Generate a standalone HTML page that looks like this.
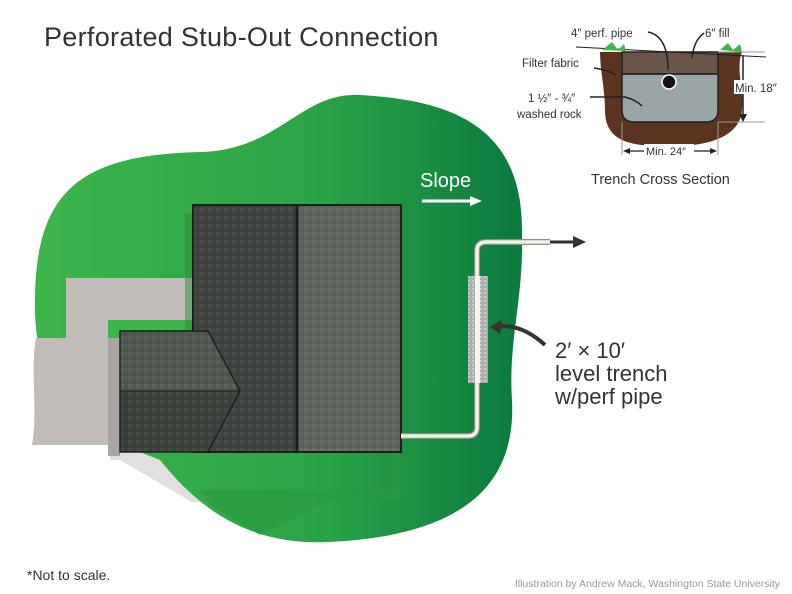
<!DOCTYPE html>
<html><head><meta charset="utf-8"><style>
body{margin:0;background:#fff;}
svg{display:block;font-family:"Liberation Sans",sans-serif;}
</style></head><body>
<svg width="792" height="594" viewBox="0 0 792 594" xmlns="http://www.w3.org/2000/svg">
<defs>
<linearGradient id="g" x1="0" x2="1" y1="0" y2="0">
<stop offset="0" stop-color="#3db54a"/><stop offset="0.6" stop-color="#2aa247"/><stop offset="1" stop-color="#0a7a3e"/>
</linearGradient>
<pattern id="sh" width="8" height="8" patternUnits="userSpaceOnUse">
<rect width="8" height="8" fill="none"/><rect x="0" y="0" width="4" height="4" fill="#fff" opacity="0.05"/><rect x="4" y="4" width="4" height="4" fill="#000" opacity="0.06"/>
</pattern>
<pattern id="rk" width="4" height="4" patternUnits="userSpaceOnUse">
<rect width="4" height="4" fill="#a9adab"/><rect width="2" height="2" fill="#c8cbc9"/>
</pattern>
</defs>
<text x="44" y="46" font-size="27" fill="#333" letter-spacing="0.3">Perforated Stub-Out Connection</text>
<!-- shadow -->
<polygon points="110,452 205,452 205,502 192,502 120,460 110,460" fill="#e2e0df"/>
<!-- green blob -->
<path d="M35,310 C33,190 80,155 200,152 C280,150 300,92 360,95 C450,100 522,125 522,230 C524,300 508,340 512,400 C516,480 470,535 330,542 C250,546 200,510 160,460 C80,430 36,390 35,310 Z" fill="url(#g)"/>
<polygon points="200,490 400,490 400,500 330,500 260,535 210,505" fill="#2c9a40" opacity="0.6"/>
<rect x="393" y="452" width="8" height="48" fill="#2c9a40" opacity="0.6"/>
<!-- gray house -->
<rect x="66" y="278" width="130" height="60" fill="#c1bcb8"/>
<path d="M36,338 L120,338 L120,445 L32,445 C38,410 30,370 36,338 Z" fill="#c1bcb8"/>
<rect x="108" y="338" width="12" height="118" fill="#aaa5a2"/>
<rect x="108" y="320" width="86" height="18" fill="#39b54a"/>
<rect x="185" y="213" width="10" height="240" fill="#2d8a3a" opacity="0.5"/>
<!-- main roof -->
<rect x="193" y="205" width="104" height="247" fill="#3e4540"/>
<rect x="193" y="205" width="104" height="247" fill="url(#sh)"/>
<rect x="297" y="205" width="104" height="247" fill="#5f675f"/>
<rect x="297" y="205" width="104" height="247" fill="url(#sh)"/>
<rect x="193" y="205" width="208" height="247" fill="none" stroke="#1e1e1e" stroke-width="2"/>
<line x1="297" y1="205" x2="297" y2="452" stroke="#1e1e1e" stroke-width="3"/>
<!-- small roof -->
<polygon points="120,331 208,331 240,391 120,391" fill="#50584f"/>
<polygon points="120,391 240,391 208,452 120,452" fill="#3a413b"/>
<polygon points="120,331 208,331 240,391 208,452 120,452" fill="url(#sh)" stroke="#1e1e1e" stroke-width="1.5"/>
<line x1="120" y1="391" x2="240" y2="391" stroke="#1e1e1e" stroke-width="1"/>
<!-- slope -->
<text x="420" y="187" font-size="20" fill="#fff">Slope</text>
<line x1="422" y1="201" x2="472" y2="201" stroke="#fff" stroke-width="3"/>
<polygon points="470,196 482,201 470,206" fill="#fff"/>
<!-- pipe -->
<path d="M401,436 L468,436 Q477,436 477,427 L477,251 Q477,242 486,242 L550,242" fill="none" stroke="#8d8f88" stroke-width="6"/>
<path d="M401,436 L468,436 Q477,436 477,427 L477,251 Q477,242 486,242 L550,242" fill="none" stroke="#f2f1e8" stroke-width="3.5"/>
<line x1="550" y1="242" x2="575" y2="242" stroke="#333" stroke-width="3"/>
<polygon points="573,236 586,242 573,248" fill="#333"/>
<rect x="468" y="276" width="20" height="107" fill="url(#rk)"/>
<rect x="475" y="276" width="5" height="107" fill="#f4f4ee"/>
<path d="M545,345 Q520,322 494,327" fill="none" stroke="#333" stroke-width="4"/>
<polygon points="490,327 502,320 500,334" fill="#333"/>
<text x="555" y="358" font-size="22" fill="#333">2′ × 10′</text>
<text x="555" y="381" font-size="22" fill="#333">level trench</text>
<text x="555" y="404" font-size="22" fill="#333">w/perf pipe</text>
<!-- cross section -->
<path d="M600,52 L742,52 C735,70 745,90 742,110 C740,140 700,148 660,146 C620,146 605,135 605,110 C605,90 600,70 600,52 Z" fill="#5b3420"/>
<rect x="622" y="52" width="96" height="22" fill="#6b5448"/>
<path d="M622,74 L718,74 L718,110 Q718,122 706,122 L634,122 Q622,122 622,110 Z" fill="#9aa6a6" stroke="#222" stroke-width="1.5"/>
<rect x="622" y="52" width="96" height="22" fill="none" stroke="#222" stroke-width="1.5"/>
<circle cx="669" cy="82" r="7" fill="#111" stroke="#fff" stroke-width="1.5"/>
<line x1="576" y1="47" x2="766" y2="57" stroke="#222" stroke-width="1"/>
<path d="M602,50 L612,42 L618,50 L624,44 L626,51 Z" fill="#3cb54a"/>
<path d="M720,50 L728,43 L733,50 L740,44 L742,52 Z" fill="#3cb54a"/>
<line x1="718" y1="52" x2="765" y2="52" stroke="#999" stroke-width="1"/>
<line x1="718" y1="122" x2="765" y2="122" stroke="#999" stroke-width="1"/>
<line x1="743" y1="55" x2="743" y2="120" stroke="#222" stroke-width="1.5"/>
<polygon points="739,114 747,114 743,122" fill="#222"/>
<line x1="622" y1="122" x2="622" y2="155" stroke="#999"/>
<line x1="718" y1="122" x2="718" y2="155" stroke="#999"/>
<line x1="625" y1="151" x2="715" y2="151" stroke="#222" stroke-width="1.2"/>
<polygon points="623,151 630,148 630,154" fill="#222"/>
<polygon points="717,151 710,148 710,154" fill="#222"/>
<rect x="644" y="144" width="50" height="13" fill="#fff"/>
<text x="646" y="155" font-size="11" fill="#333">Min. 24″</text>
<rect x="734" y="80" width="48" height="14" fill="#fff"/>
<text x="735" y="92" font-size="11.5" fill="#333">Min. 18″</text>
<text x="571" y="37" font-size="11.5" fill="#333">4″ perf. pipe</text>
<path d="M648,32 Q668,36 668,70" fill="none" stroke="#222" stroke-width="1.5"/>
<text x="705" y="37" font-size="11.5" fill="#333">6″ fill</text>
<path d="M704,33 Q694,40 692,58" fill="none" stroke="#222" stroke-width="1.5"/>
<text x="522" y="67" font-size="11.5" fill="#333">Filter fabric</text>
<path d="M594,68 Q608,70 616,75" fill="none" stroke="#222" stroke-width="1.5"/>
<text x="528" y="102" font-size="11.5" fill="#333">1 ½″ - ¾″</text>
<text x="517" y="118" font-size="11.5" fill="#333">washed rock</text>
<path d="M590,97 L625,97 Q636,100 642,106" fill="none" stroke="#222" stroke-width="1.5"/>
<text x="591" y="184" font-size="14.5" fill="#333">Trench Cross Section</text>
<text x="27" y="580" font-size="14" fill="#333">*Not to scale.</text>
<text x="780" y="587" font-size="10.5" fill="#999" text-anchor="end">Illustration by Andrew Mack, Washington State University</text>
</svg>
</body></html>
